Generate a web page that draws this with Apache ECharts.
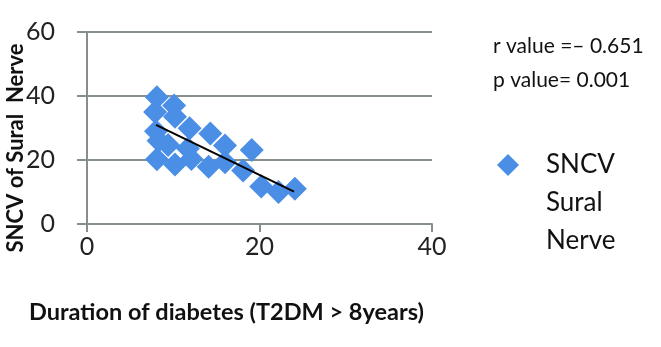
<!DOCTYPE html>
<html><head><meta charset="utf-8">
<script src="https://cdn.jsdelivr.net/npm/echarts@6/dist/echarts.min.js"></script>
<style>html,body{margin:0;padding:0;background:#fff}#c{width:661px;height:347px}</style>
</head><body><div id="c"></div>
<script>
const durationYears = [8.1, 10.1, 7.9, 10.2, 8.0, 8.3, 11.9, 14.3, 9.4, 11.7, 16.0, 19.1, 8.1, 10.2, 12.1, 14.1, 16.0, 18.1, 20.2, 22.2, 24.1];
const sncvValues   = [39.6, 37.0, 35.0, 33.5, 29.0, 26.0, 29.9, 28.3, 24.7, 23.6, 24.5, 23.1, 20.2, 18.6, 20.3, 17.9, 19.3, 16.7, 11.7, 10.0, 11.0];
const trendX = [8.0, 24.0];
const trendY = [31.0, 10.1];
const xTicks = [0, 20, 40];
const yTicks = [0, 20, 40, 60];
const seriesName = 'SNCV Sural Nerve';
const statLines = ['r value =\u2013 0.651', 'p value= 0.001'];

const FONT = 'Lato';
const GRID = '#878f8d';
const chart = echarts.init(document.getElementById('c'), null, {renderer: 'canvas'});
chart.setOption({
  animation: false,
  backgroundColor: '#fff',
  textStyle: {fontFamily: FONT},
  grid: {left: 87, right: 229, top: 32, bottom: 123, containLabel: false, outerBoundsMode: 'none'},
  xAxis: {
    type: 'value', min: xTicks[0], max: xTicks[xTicks.length - 1], interval: 20,
    axisLine: {show: true, lineStyle: {color: GRID, width: 2}},
    axisTick: {show: true, length: 8, lineStyle: {color: GRID, width: 2}},
    splitLine: {show: false},
    axisLabel: {fontSize: 25, color: '#222', margin: 10, fontFamily: FONT},
    name: 'Duration of diabetes (T2DM > 8years)', nameLocation: 'middle', nameGap: 76, nameMoveOverlap: false,
    nameTextStyle: {fontSize: 23.5, fontWeight: 'bold', color: '#111', fontFamily: FONT, padding: [0, 66, 0, 0]}
  },
  yAxis: {
    type: 'value', min: yTicks[0], max: yTicks[yTicks.length - 1], interval: 20,
    axisLine: {show: true, lineStyle: {color: GRID, width: 2}},
    axisTick: {show: true, length: 10, lineStyle: {color: GRID, width: 2}},
    splitLine: {show: true, lineStyle: {color: GRID, width: 2}},
    axisLabel: {fontSize: 25, color: '#222', margin: 32, fontFamily: FONT},
    name: 'SNCV of Sural  Nerve', nameLocation: 'middle', nameGap: 60, nameMoveOverlap: false,
    nameTextStyle: {fontSize: 22, fontWeight: 'bold', color: '#111', fontFamily: FONT, padding: [0, 40, 0, 0]}
  },
  legend: {
    show: true, left: 492, top: 65, orient: 'vertical',
    icon: 'diamond', itemWidth: 22, itemHeight: 22,
    data: [seriesName],
    formatter: () => '\n\nSNCV\nSural\nNerve',
    textStyle: {fontSize: 26, color: '#111', fontFamily: FONT, lineHeight: 38, padding: [0, 0, 0, 22]}
  },
  graphic: [
    {type: 'text', left: 493, top: 36, style: {text: statLines[0], fontSize: 21, fill: '#111', fontFamily: FONT}},
    {type: 'text', left: 493, top: 70, style: {text: statLines[1], fontSize: 21, fill: '#111', fontFamily: FONT}}
  ],
  series: [
    {
      name: seriesName, type: 'scatter', symbol: 'diamond', symbolSize: 24,
      itemStyle: {color: '#4a8ee6', opacity: 1},
      data: durationYears.map((x, i) => [x, sncvValues[i]]), z: 2
    },
    {
      name: 'trend', type: 'line', showSymbol: false, symbol: 'none',
      lineStyle: {color: '#000', width: 2}, z: 3,
      data: trendX.map((x, i) => [x, trendY[i]])
    }
  ]
});
</script></body></html>
